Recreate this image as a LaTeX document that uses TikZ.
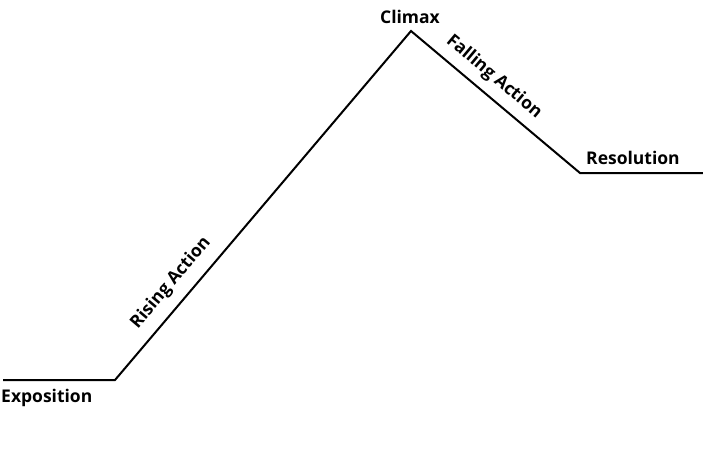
\documentclass[tikz,border=0pt]{standalone}
\usepackage{fontspec}
\setmainfont{Open Sans}
\usetikzlibrary{positioning}

\begin{document}
\begin{tikzpicture}[
    x=1pt, y=-1pt,
    plot/.style={line width=2pt, line join=miter},
    stage/.style={font=\bfseries\fontsize{17.5}{20}\selectfont, inner sep=1pt}
]
    \useasboundingbox (0,0) rectangle (703,459);

    % Plot points
    \coordinate (start) at (3,380);
    \coordinate (expo) at (115,380);
    \coordinate (climax) at (411,31);
    \coordinate (resol) at (580,173);
    \coordinate (end) at (703,173);

    % Story arc
    \draw[plot] (start) -- (expo) -- (climax) -- (resol) -- (end);

    % Stage labels
    \node[stage, anchor=base west] (exposition) at (0,402) {Exposition};
    \node[stage, rotate=49.7] (rising) at (171,283) {Rising Action};
    \node[stage, anchor=base] (climaxlabel) at (410,23) {Climax};
    \node[stage, rotate=-40] (falling) at (494,77) {Falling Action};
    \node[stage, anchor=base west] (resolution) at (585,164) {Resolution};
\end{tikzpicture}
\end{document}
